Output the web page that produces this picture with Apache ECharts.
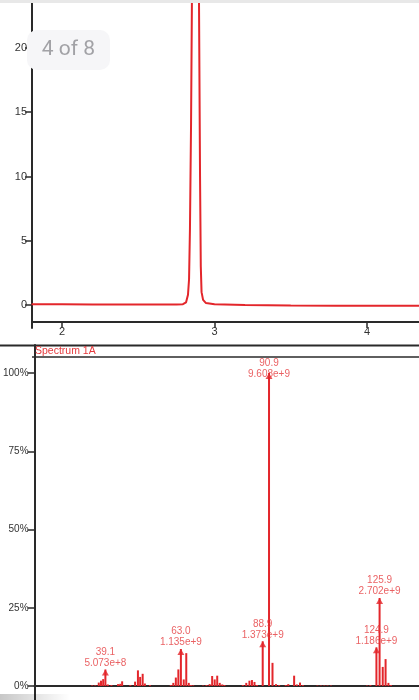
<!DOCTYPE html>
<html><head><meta charset="utf-8">
<script src="https://cdn.jsdelivr.net/npm/echarts@6/dist/echarts.min.js"></script>
<style>html,body{margin:0;padding:0;background:#fff}#c{width:419px;height:700px}</style>
</head><body><div id="c"></div>
<script>
// ---- Top: chromatogram ----
const chromTime   = [1.80, 2.00, 2.20, 2.40, 2.60, 2.75, 2.793, 2.813, 2.826, 2.833, 2.839, 2.846, 2.852, 2.859, 2.875, 2.892, 2.898, 2.905, 2.910, 2.915, 2.925, 2.944, 3.00, 3.20, 3.50, 3.80, 4.10, 4.35];
const chromSignal = [0.05, 0.05, 0.04, 0.04, 0.03, 0.04, 0.06, 0.2, 0.8, 2, 6, 14, 24, 40, 60, 40, 24, 10, 3, 1, 0.4, 0.15, 0.05, 0.0, -0.03, -0.05, -0.06, -0.06];
const chromTicks = [0, 5, 10, 15, 20];
const timeTicks = [2, 3, 4];

// ---- Bottom: mass spectrum ----
const specMz  = [34.9, 35.9, 37.0, 37.7, 38.4, 39.85, 41.0, 43.1, 43.8, 44.4, 47.0, 48.5, 49.4, 50.1, 50.9, 51.6, 53.2,
                 59.8, 60.6, 61.4, 62.2, 63.9, 64.7, 65.5, 66.2, 66.9,
                 70.0, 71.1, 72.1, 72.9, 73.7, 74.5, 75.3, 76.1, 76.8,
                 82.6, 83.7, 84.7, 85.5, 86.3, 87.1, 92.0, 93.1, 94.1, 96.2, 97.0, 98.85, 99.7, 100.7, 101.6,
                 106.2, 107.3, 108.4, 109.4, 110.5,
                 121.9, 123.0, 126.9, 127.8, 128.7, 129.5];
const specPct = [0.2, 0.2, 1.1, 1.7, 2.2, 0.5, 0.3, 0.6, 0.7, 1.5, 0.3, 1.4, 5.0, 2.9, 3.9, 0.8, 0.3,
                 0.3, 1.0, 2.7, 5.3, 2.1, 10.5, 1.0, 0.3, 0.2,
                 0.15, 0.3, 0.6, 3.2, 2.1, 3.3, 1.0, 0.5, 0.3,
                 0.3, 1.0, 1.7, 1.9, 1.3, 0.3, 7.4, 0.6, 0.3, 0.3, 0.6, 3.3, 0.5, 1.1, 0.3,
                 0.15, 0.15, 0.15, 0.15, 0.15,
                 0.15, 0.3, 6.1, 8.6, 1.0, 0.3];
const labeledMz  = [39.1, 63.0, 88.9, 90.9, 124.9, 125.9];
const labeledAbs = [5.073e8, 1.135e9, 1.373e9, 9.608e9, 1.186e9, 2.702e9];
const pctTicks = [0, 25, 50, 75, 100];

const RED = '#e3262b';
const TXT_RED = '#e5393c';
const FONT = 'Liberation Sans, Arial, sans-serif';
const maxAbs = Math.max(...labeledAbs);
const labeledPct = labeledAbs.map(v => v / maxAbs * 100);

const barData = specMz.map((m, i) => [m, specPct[i]])
  .concat(labeledMz.map((m, i) => [m, labeledPct[i]]));

const arrowData = labeledMz.map((m, i) => {
  const item = { value: [m, labeledPct[i]], name: m.toFixed(1) + '\n' + labeledAbs[i].toExponential(3) };
  if (labeledAbs[i] === maxAbs) item.label = { offset: [0, 8] };
  return item;
});

const chart = echarts.init(document.getElementById('c'), null, { renderer: 'canvas' });
chart.setOption({
  animation: false,
  backgroundColor: '#fff',
  grid: [
    { left: 32, right: 0, top: 0, height: 328 },
    { left: 32, right: 0, top: 345, height: 355 }
  ],
  xAxis: [
    { type: 'value', gridIndex: 0, min: 1.803, max: 4.341, offset: -6,
      axisLine: { onZero: false, lineStyle: { color: '#2a2a2a', width: 2 } },
      axisTick: { customValues: timeTicks, length: 6, lineStyle: { color: '#2a2a2a', width: 1.5 } },
      axisLabel: { customValues: timeTicks, fontSize: 11, margin: 4, color: '#333', fontFamily: FONT },
      splitLine: { show: false } },
    { type: 'value', gridIndex: 1, min: 16.68, max: 138.38,
      axisLine: { onZero: true, lineStyle: { color: '#2a2a2a', width: 2 } },
      axisTick: { show: false }, axisLabel: { show: false }, splitLine: { show: false } }
  ],
  yAxis: [
    { type: 'value', gridIndex: 0, min: -1.79, max: 23.735,
      axisLine: { show: true, onZero: false, lineStyle: { color: '#2a2a2a', width: 2 } },
      axisTick: { show: true, customValues: chromTicks, length: 7, lineStyle: { color: '#2a2a2a', width: 1.5 } },
      axisLabel: { customValues: chromTicks, fontSize: 11, margin: 5, color: '#333', fontFamily: FONT },
      splitLine: { show: false } },
    { type: 'value', gridIndex: 1, min: -4.47, max: 108.95,
      axisLine: { show: true, onZero: false, lineStyle: { color: '#2a2a2a', width: 2 } },
      axisTick: { show: true, customValues: pctTicks, length: 7, lineStyle: { color: '#2a2a2a', width: 1.5 } },
      axisLabel: { customValues: pctTicks, formatter: '{value}%', fontSize: 10, margin: 6, color: '#333', fontFamily: FONT },
      splitLine: { show: false } }
  ],
  series: [
    { type: 'line', xAxisIndex: 0, yAxisIndex: 0, symbol: 'none',
      data: chromTime.map((t, i) => [t, chromSignal[i]]),
      lineStyle: { color: RED, width: 2 } },
    { type: 'bar', xAxisIndex: 1, yAxisIndex: 1, barWidth: 2,
      data: barData, itemStyle: { color: RED } },
    { type: 'scatter', xAxisIndex: 1, yAxisIndex: 1, symbol: 'triangle',
      symbolSize: [7, 6], symbolOffset: [0, 3], z: 5,
      itemStyle: { color: RED },
      data: arrowData,
      label: { show: true, position: 'top', distance: 1, formatter: p => p.name,
               color: TXT_RED, fontSize: 10, lineHeight: 11, fontFamily: FONT } }
  ],
  graphic: [
    { type: 'rect', z: 100, shape: { x: 0, y: 0, width: 419, height: 3 }, style: { fill: '#e8e8e8' } },
    { type: 'rect', z: 100, shape: { x: 27, y: 30, width: 83, height: 40, r: 10 }, style: { fill: '#f6f6f8' } },
    { type: 'text', z: 101, x: 68.5, y: 50, style: { text: '4 of 8', fill: '#a2a2a6', font: '400 21px Roboto, Inter, sans-serif', align: 'center', verticalAlign: 'middle' } },
    { type: 'line', z: 100, shape: { x1: 0, y1: 345.5, x2: 419, y2: 345.5 }, style: { stroke: '#2a2a2a', lineWidth: 2 } },
    { type: 'line', z: 100, shape: { x1: 32, y1: 357, x2: 419, y2: 357 }, style: { stroke: '#2a2a2a', lineWidth: 1.5 } },
    { type: 'text', z: 101, x: 35, y: 351.5, style: { text: 'Spectrum 1A', fill: TXT_RED, font: '10.5px Liberation Sans, Arial, sans-serif', verticalAlign: 'middle' } },
    { type: 'rect', z: 100, shape: { x: 0, y: 694, width: 70, height: 6 },
      style: { fill: new echarts.graphic.LinearGradient(0, 0, 1, 0, [{ offset: 0, color: 'rgba(0,0,0,0.22)' }, { offset: 1, color: 'rgba(0,0,0,0)' }]) } }
  ]
});
</script>
</body></html>
